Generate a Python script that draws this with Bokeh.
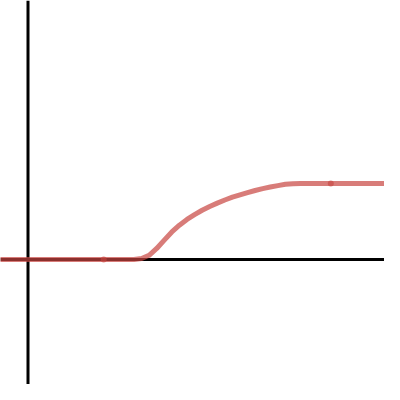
from bokeh.plotting import figure
from bokeh.models import Span, Range1d
from bokeh.embed import file_html
from bokeh.resources import INLINE

# curve (x in axis units, y from 0 to 1)
curve_x = [-0.4, 1.0, 1.4, 1.5, 1.6, 1.7, 1.8, 1.9, 2.0, 2.1, 2.2, 2.3,
           2.4, 2.5, 2.6, 2.7, 2.8, 2.9, 3.0, 3.1, 3.2, 3.3, 3.4, 3.5,
           3.6, 4.0, 4.9]
curve_y = [0.0, 0.0, 0.0, 0.012, 0.055, 0.145, 0.255, 0.362, 0.452, 0.527,
           0.59, 0.648, 0.698, 0.742, 0.783, 0.82, 0.85, 0.88, 0.908,
           0.932, 0.953, 0.972, 0.989, 0.998, 1.0, 1.0, 1.0]

# marked points on the curve
point_x = [1.0, 4.0]
point_y = [0.0, 1.0]

RED = "#c74440"

p = figure(width=384, height=384, output_backend="svg", toolbar_location=None,
           x_range=Range1d(-0.3633, 4.709), y_range=Range1d(-1.645, 3.408),
           min_border=0)
p.axis.visible = False
p.grid.visible = False
p.outline_line_color = None
p.background_fill_color = "white"

p.add_layout(Span(location=0, dimension="height", line_color="black",
                  line_width=3, level="underlay"))
p.add_layout(Span(location=0, dimension="width", line_color="black",
                  line_width=3, level="underlay"))

p.line(curve_x, curve_y, line_color=RED, line_alpha=0.7, line_width=5,
       line_join="round", line_cap="round")
p.scatter(point_x, point_y, size=6, fill_color=RED, fill_alpha=0.6,
          line_color=None)

open("out.html", "w").write(file_html(p, INLINE))
